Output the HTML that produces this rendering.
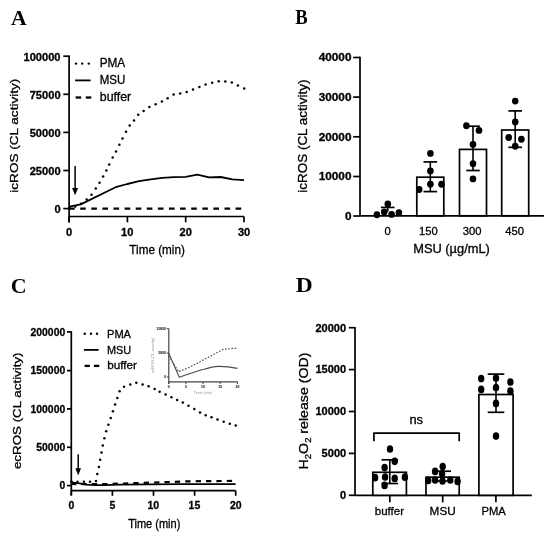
<!DOCTYPE html>
<html><head><meta charset="utf-8"><title>Figure</title>
<style>html,body{margin:0;padding:0;background:#fff;}svg{display:block;}</style></head>
<body><svg width="550" height="538" viewBox="0 0 550 538">
<rect width="550" height="538" fill="#fff"/>
<text x="10.99" y="24.50" font-family='"Liberation Serif","Times New Roman",serif' font-weight="bold" font-size="21.6" textLength="15.67" lengthAdjust="spacingAndGlyphs" fill="#000" stroke="#000" stroke-width="0" >A</text>
<line x1="69.10" y1="55.50" x2="69.10" y2="222.50" stroke="#000" stroke-width="1.7" />
<line x1="63.30" y1="56.20" x2="69.10" y2="56.20" stroke="#000" stroke-width="1.7" />
<text x="23.52" y="60.62" font-family='"Liberation Sans",Arial,sans-serif' font-weight="bold" font-size="11.1" textLength="37.04" lengthAdjust="spacingAndGlyphs" fill="#000" stroke="#000" stroke-width="0.3" >100000</text>
<line x1="63.30" y1="94.30" x2="69.10" y2="94.30" stroke="#000" stroke-width="1.7" />
<text x="29.69" y="98.72" font-family='"Liberation Sans",Arial,sans-serif' font-weight="bold" font-size="11.1" textLength="30.87" lengthAdjust="spacingAndGlyphs" fill="#000" stroke="#000" stroke-width="0.3" >75000</text>
<line x1="63.30" y1="132.40" x2="69.10" y2="132.40" stroke="#000" stroke-width="1.7" />
<text x="29.69" y="136.82" font-family='"Liberation Sans",Arial,sans-serif' font-weight="bold" font-size="11.1" textLength="30.87" lengthAdjust="spacingAndGlyphs" fill="#000" stroke="#000" stroke-width="0.3" >50000</text>
<line x1="63.30" y1="170.50" x2="69.10" y2="170.50" stroke="#000" stroke-width="1.7" />
<text x="29.69" y="174.92" font-family='"Liberation Sans",Arial,sans-serif' font-weight="bold" font-size="11.1" textLength="30.87" lengthAdjust="spacingAndGlyphs" fill="#000" stroke="#000" stroke-width="0.3" >25000</text>
<line x1="63.30" y1="208.60" x2="69.10" y2="208.60" stroke="#000" stroke-width="1.7" />
<text x="54.38" y="213.02" font-family='"Liberation Sans",Arial,sans-serif' font-weight="bold" font-size="11.1" textLength="6.17" lengthAdjust="spacingAndGlyphs" fill="#000" stroke="#000" stroke-width="0.3" >0</text>
<line x1="69.10" y1="216.50" x2="244.00" y2="216.50" stroke="#000" stroke-width="1.7" />
<line x1="69.10" y1="216.50" x2="69.10" y2="222.30" stroke="#000" stroke-width="1.7" />
<text x="66.02" y="236.35" font-family='"Liberation Sans",Arial,sans-serif' font-weight="bold" font-size="11.1" textLength="6.17" lengthAdjust="spacingAndGlyphs" fill="#000" stroke="#000" stroke-width="0.3" >0</text>
<line x1="127.40" y1="216.50" x2="127.40" y2="222.30" stroke="#000" stroke-width="1.7" />
<text x="121.10" y="236.35" font-family='"Liberation Sans",Arial,sans-serif' font-weight="bold" font-size="11.1" textLength="12.35" lengthAdjust="spacingAndGlyphs" fill="#000" stroke="#000" stroke-width="0.3" >10</text>
<line x1="185.70" y1="216.50" x2="185.70" y2="222.30" stroke="#000" stroke-width="1.7" />
<text x="179.56" y="236.35" font-family='"Liberation Sans",Arial,sans-serif' font-weight="bold" font-size="11.1" textLength="12.35" lengthAdjust="spacingAndGlyphs" fill="#000" stroke="#000" stroke-width="0.3" >20</text>
<line x1="244.00" y1="216.50" x2="244.00" y2="222.30" stroke="#000" stroke-width="1.7" />
<text x="237.93" y="236.35" font-family='"Liberation Sans",Arial,sans-serif' font-weight="bold" font-size="11.1" textLength="12.35" lengthAdjust="spacingAndGlyphs" fill="#000" stroke="#000" stroke-width="0.3" >30</text>
<text x="129.34" y="254.30" font-family='"Liberation Sans",Arial,sans-serif' font-weight="normal" font-size="12.6" textLength="55.48" lengthAdjust="spacingAndGlyphs" fill="#000" stroke="#000" stroke-width="0.3" >Time (min)</text>
<text transform="translate(18.10,0) rotate(-90)" x="-192.70" y="0" font-family='"Liberation Sans",Arial,sans-serif' font-weight="normal" font-size="11.2" textLength="113.94" lengthAdjust="spacingAndGlyphs" fill="#000" stroke="#000" stroke-width="0.3">icROS (CL activity)</text>
<circle cx="76.00" cy="63.60" r="1.2" fill="#000"/>
<circle cx="82.20" cy="63.60" r="1.2" fill="#000"/>
<circle cx="88.80" cy="63.60" r="1.2" fill="#000"/>
<line x1="75.10" y1="80.40" x2="90.60" y2="80.40" stroke="#000" stroke-width="1.8" />
<line x1="75.60" y1="97.50" x2="81.20" y2="97.50" stroke="#000" stroke-width="2.3" />
<line x1="85.80" y1="97.50" x2="91.30" y2="97.50" stroke="#000" stroke-width="2.3" />
<text x="99.63" y="66.80" font-family='"Liberation Sans",Arial,sans-serif' font-weight="normal" font-size="12.1" textLength="25.59" lengthAdjust="spacingAndGlyphs" fill="#000" stroke="#000" stroke-width="0.3" >PMA</text>
<text x="99.65" y="83.80" font-family='"Liberation Sans",Arial,sans-serif' font-weight="normal" font-size="12.1" textLength="25.64" lengthAdjust="spacingAndGlyphs" fill="#000" stroke="#000" stroke-width="0.3" >MSU</text>
<text x="99.81" y="100.90" font-family='"Liberation Sans",Arial,sans-serif' font-weight="normal" font-size="12.1" textLength="31.40" lengthAdjust="spacingAndGlyphs" fill="#000" stroke="#000" stroke-width="0.3" >buffer</text>
<line x1="75.10" y1="166.00" x2="75.10" y2="189.00" stroke="#000" stroke-width="1.5" />
<polygon points="72.10,188.00 78.10,188.00 75.10,195.20" fill="#000"/>
<line x1="69.10" y1="208.60" x2="244.00" y2="208.60" stroke="#000" stroke-width="2.2" stroke-dasharray="5.6 5.5"/>
<polyline points="69.20,206.60 80.70,204.40 115.60,187.20 127.30,184.00 139.00,181.20 150.70,179.40 162.30,177.90 174.00,177.20 185.70,176.80 197.40,174.60 209.00,177.30 220.70,177.00 232.30,179.40 244.00,180.20" fill="none" stroke="#000" stroke-width="1.8" stroke-linejoin="round" />
<circle cx="69.50" cy="207.80" r="1.25" fill="#000"/>
<circle cx="75.30" cy="206.50" r="1.25" fill="#000"/>
<circle cx="81.00" cy="203.80" r="1.25" fill="#000"/>
<circle cx="86.70" cy="199.60" r="1.25" fill="#000"/>
<circle cx="91.50" cy="194.70" r="1.25" fill="#000"/>
<circle cx="95.80" cy="188.60" r="1.25" fill="#000"/>
<circle cx="99.50" cy="182.80" r="1.25" fill="#000"/>
<circle cx="103.10" cy="176.40" r="1.25" fill="#000"/>
<circle cx="106.40" cy="170.60" r="1.25" fill="#000"/>
<circle cx="109.20" cy="164.50" r="1.25" fill="#000"/>
<circle cx="112.70" cy="157.50" r="1.25" fill="#000"/>
<circle cx="116.00" cy="151.40" r="1.25" fill="#000"/>
<circle cx="119.40" cy="144.80" r="1.25" fill="#000"/>
<circle cx="122.50" cy="138.50" r="1.25" fill="#000"/>
<circle cx="126.00" cy="131.80" r="1.25" fill="#000"/>
<circle cx="129.70" cy="125.60" r="1.25" fill="#000"/>
<circle cx="134.00" cy="120.50" r="1.25" fill="#000"/>
<circle cx="138.20" cy="114.70" r="1.25" fill="#000"/>
<circle cx="143.60" cy="110.90" r="1.25" fill="#000"/>
<circle cx="149.40" cy="107.10" r="1.25" fill="#000"/>
<circle cx="155.60" cy="104.30" r="1.25" fill="#000"/>
<circle cx="161.90" cy="101.60" r="1.25" fill="#000"/>
<circle cx="167.60" cy="98.30" r="1.25" fill="#000"/>
<circle cx="173.60" cy="94.60" r="1.25" fill="#000"/>
<circle cx="180.20" cy="93.40" r="1.25" fill="#000"/>
<circle cx="186.70" cy="92.00" r="1.25" fill="#000"/>
<circle cx="193.00" cy="89.40" r="1.25" fill="#000"/>
<circle cx="199.40" cy="87.10" r="1.25" fill="#000"/>
<circle cx="205.60" cy="84.60" r="1.25" fill="#000"/>
<circle cx="212.20" cy="82.70" r="1.25" fill="#000"/>
<circle cx="218.70" cy="81.30" r="1.25" fill="#000"/>
<circle cx="225.30" cy="81.60" r="1.25" fill="#000"/>
<circle cx="231.80" cy="82.50" r="1.25" fill="#000"/>
<circle cx="237.90" cy="85.40" r="1.25" fill="#000"/>
<circle cx="244.20" cy="88.60" r="1.25" fill="#000"/>
<text x="295.29" y="23.50" font-family='"Liberation Serif","Times New Roman",serif' font-weight="bold" font-size="21" textLength="12.43" lengthAdjust="spacingAndGlyphs" fill="#000" stroke="#000" stroke-width="0" >B</text>
<line x1="360.00" y1="56.80" x2="360.00" y2="216.00" stroke="#000" stroke-width="1.7" />
<line x1="353.20" y1="57.50" x2="360.00" y2="57.50" stroke="#000" stroke-width="1.7" />
<text x="318.76" y="61.32" font-family='"Liberation Sans",Arial,sans-serif' font-weight="bold" font-size="11.1" textLength="32.72" lengthAdjust="spacingAndGlyphs" fill="#000" stroke="#000" stroke-width="0.3" >40000</text>
<line x1="353.20" y1="97.10" x2="360.00" y2="97.10" stroke="#000" stroke-width="1.7" />
<text x="318.76" y="100.91" font-family='"Liberation Sans",Arial,sans-serif' font-weight="bold" font-size="11.1" textLength="32.72" lengthAdjust="spacingAndGlyphs" fill="#000" stroke="#000" stroke-width="0.3" >30000</text>
<line x1="353.20" y1="136.80" x2="360.00" y2="136.80" stroke="#000" stroke-width="1.7" />
<text x="318.76" y="140.62" font-family='"Liberation Sans",Arial,sans-serif' font-weight="bold" font-size="11.1" textLength="32.72" lengthAdjust="spacingAndGlyphs" fill="#000" stroke="#000" stroke-width="0.3" >20000</text>
<line x1="353.20" y1="176.50" x2="360.00" y2="176.50" stroke="#000" stroke-width="1.7" />
<text x="318.76" y="180.32" font-family='"Liberation Sans",Arial,sans-serif' font-weight="bold" font-size="11.1" textLength="32.72" lengthAdjust="spacingAndGlyphs" fill="#000" stroke="#000" stroke-width="0.3" >10000</text>
<line x1="353.20" y1="216.00" x2="360.00" y2="216.00" stroke="#000" stroke-width="1.7" />
<text x="344.94" y="219.82" font-family='"Liberation Sans",Arial,sans-serif' font-weight="bold" font-size="11.1" textLength="6.54" lengthAdjust="spacingAndGlyphs" fill="#000" stroke="#000" stroke-width="0.3" >0</text>
<line x1="360.00" y1="215.80" x2="544.00" y2="215.80" stroke="#000" stroke-width="1.7" />
<rect x="416.80" y="177.20" width="27.0" height="38.60" fill="#fff" stroke="#000" stroke-width="1.7"/>
<rect x="459.50" y="149.40" width="27.0" height="66.40" fill="#fff" stroke="#000" stroke-width="1.7"/>
<rect x="501.70" y="130.00" width="27.0" height="85.80" fill="#fff" stroke="#000" stroke-width="1.7"/>
<line x1="387.70" y1="207.40" x2="387.70" y2="211.80" stroke="#000" stroke-width="1.6" />
<line x1="380.90" y1="207.40" x2="394.50" y2="207.40" stroke="#000" stroke-width="1.7" />
<line x1="430.30" y1="161.90" x2="430.30" y2="191.60" stroke="#000" stroke-width="1.6" />
<line x1="423.50" y1="161.90" x2="437.10" y2="161.90" stroke="#000" stroke-width="1.7" />
<line x1="423.50" y1="191.60" x2="437.10" y2="191.60" stroke="#000" stroke-width="1.7" />
<line x1="473.00" y1="126.20" x2="473.00" y2="170.50" stroke="#000" stroke-width="1.6" />
<line x1="466.20" y1="126.20" x2="479.80" y2="126.20" stroke="#000" stroke-width="1.7" />
<line x1="466.20" y1="170.50" x2="479.80" y2="170.50" stroke="#000" stroke-width="1.7" />
<line x1="515.20" y1="110.90" x2="515.20" y2="147.30" stroke="#000" stroke-width="1.6" />
<line x1="508.40" y1="110.90" x2="522.00" y2="110.90" stroke="#000" stroke-width="1.7" />
<line x1="508.40" y1="147.30" x2="522.00" y2="147.30" stroke="#000" stroke-width="1.7" />
<ellipse cx="376.90" cy="214.70" rx="3.3" ry="3.45" fill="#000"/>
<ellipse cx="384.20" cy="212.00" rx="3.3" ry="3.45" fill="#000"/>
<ellipse cx="387.80" cy="204.00" rx="3.3" ry="3.45" fill="#000"/>
<ellipse cx="391.60" cy="214.40" rx="3.3" ry="3.45" fill="#000"/>
<ellipse cx="398.90" cy="212.70" rx="3.3" ry="3.45" fill="#000"/>
<ellipse cx="430.40" cy="153.40" rx="3.3" ry="3.45" fill="#000"/>
<ellipse cx="430.40" cy="170.90" rx="3.3" ry="3.45" fill="#000"/>
<ellipse cx="430.40" cy="184.20" rx="3.3" ry="3.45" fill="#000"/>
<ellipse cx="441.50" cy="184.30" rx="3.3" ry="3.45" fill="#000"/>
<ellipse cx="419.20" cy="189.50" rx="3.3" ry="3.45" fill="#000"/>
<ellipse cx="466.40" cy="125.80" rx="3.3" ry="3.45" fill="#000"/>
<ellipse cx="479.00" cy="130.40" rx="3.3" ry="3.45" fill="#000"/>
<ellipse cx="473.00" cy="144.40" rx="3.3" ry="3.45" fill="#000"/>
<ellipse cx="473.00" cy="163.70" rx="3.3" ry="3.45" fill="#000"/>
<ellipse cx="473.00" cy="178.90" rx="3.3" ry="3.45" fill="#000"/>
<ellipse cx="515.20" cy="101.10" rx="3.3" ry="3.45" fill="#000"/>
<ellipse cx="515.20" cy="121.90" rx="3.3" ry="3.45" fill="#000"/>
<ellipse cx="508.70" cy="137.50" rx="3.3" ry="3.45" fill="#000"/>
<ellipse cx="521.40" cy="139.20" rx="3.3" ry="3.45" fill="#000"/>
<ellipse cx="515.20" cy="146.20" rx="3.3" ry="3.45" fill="#000"/>
<text x="384.59" y="234.92" font-family='"Liberation Sans",Arial,sans-serif' font-weight="normal" font-size="11.2" textLength="6.23" lengthAdjust="spacingAndGlyphs" fill="#000" stroke="#000" stroke-width="0.3" >0</text>
<text x="418.95" y="234.92" font-family='"Liberation Sans",Arial,sans-serif' font-weight="normal" font-size="11.2" textLength="18.69" lengthAdjust="spacingAndGlyphs" fill="#000" stroke="#000" stroke-width="0.3" >150</text>
<text x="462.76" y="234.92" font-family='"Liberation Sans",Arial,sans-serif' font-weight="normal" font-size="11.2" textLength="18.69" lengthAdjust="spacingAndGlyphs" fill="#000" stroke="#000" stroke-width="0.3" >300</text>
<text x="505.25" y="234.92" font-family='"Liberation Sans",Arial,sans-serif' font-weight="normal" font-size="11.2" textLength="18.69" lengthAdjust="spacingAndGlyphs" fill="#000" stroke="#000" stroke-width="0.3" >450</text>
<text x="413.25" y="253.40" font-family='"Liberation Sans",Arial,sans-serif' font-weight="normal" font-size="12.3" textLength="76.55" lengthAdjust="spacingAndGlyphs" fill="#000" stroke="#000" stroke-width="0.3" >MSU (µg/mL)</text>
<text transform="translate(307.10,0) rotate(-90)" x="-192.70" y="0" font-family='"Liberation Sans",Arial,sans-serif' font-weight="normal" font-size="12.8" textLength="113.13" lengthAdjust="spacingAndGlyphs" fill="#000" stroke="#000" stroke-width="0.3">icROS (CL activity)</text>
<text x="10.83" y="292.60" font-family='"Liberation Serif","Times New Roman",serif' font-weight="bold" font-size="21" textLength="15.84" lengthAdjust="spacingAndGlyphs" fill="#000" stroke="#000" stroke-width="0" >C</text>
<line x1="71.30" y1="331.20" x2="71.30" y2="495.00" stroke="#000" stroke-width="1.7" />
<line x1="67.00" y1="331.90" x2="71.30" y2="331.90" stroke="#000" stroke-width="1.7" />
<text x="30.54" y="335.79" font-family='"Liberation Sans",Arial,sans-serif' font-weight="bold" font-size="11.3" textLength="34.69" lengthAdjust="spacingAndGlyphs" fill="#000" stroke="#000" stroke-width="0.3" >200000</text>
<line x1="67.00" y1="370.60" x2="71.30" y2="370.60" stroke="#000" stroke-width="1.7" />
<text x="30.54" y="374.49" font-family='"Liberation Sans",Arial,sans-serif' font-weight="bold" font-size="11.3" textLength="34.69" lengthAdjust="spacingAndGlyphs" fill="#000" stroke="#000" stroke-width="0.3" >150000</text>
<line x1="67.00" y1="408.90" x2="71.30" y2="408.90" stroke="#000" stroke-width="1.7" />
<text x="30.54" y="412.79" font-family='"Liberation Sans",Arial,sans-serif' font-weight="bold" font-size="11.3" textLength="34.69" lengthAdjust="spacingAndGlyphs" fill="#000" stroke="#000" stroke-width="0.3" >100000</text>
<line x1="67.00" y1="447.30" x2="71.30" y2="447.30" stroke="#000" stroke-width="1.7" />
<text x="36.32" y="451.19" font-family='"Liberation Sans",Arial,sans-serif' font-weight="bold" font-size="11.3" textLength="28.91" lengthAdjust="spacingAndGlyphs" fill="#000" stroke="#000" stroke-width="0.3" >50000</text>
<line x1="67.00" y1="485.60" x2="71.30" y2="485.60" stroke="#000" stroke-width="1.7" />
<text x="59.44" y="489.49" font-family='"Liberation Sans",Arial,sans-serif' font-weight="bold" font-size="11.3" textLength="5.78" lengthAdjust="spacingAndGlyphs" fill="#000" stroke="#000" stroke-width="0.3" >0</text>
<line x1="71.30" y1="490.70" x2="235.70" y2="490.70" stroke="#000" stroke-width="1.7" />
<line x1="71.30" y1="490.70" x2="71.30" y2="495.80" stroke="#000" stroke-width="1.7" />
<text x="68.39" y="508.89" font-family='"Liberation Sans",Arial,sans-serif' font-weight="bold" font-size="11.3" textLength="5.84" lengthAdjust="spacingAndGlyphs" fill="#000" stroke="#000" stroke-width="0.3" >0</text>
<line x1="112.40" y1="490.70" x2="112.40" y2="495.80" stroke="#000" stroke-width="1.7" />
<text x="109.46" y="508.77" font-family='"Liberation Sans",Arial,sans-serif' font-weight="bold" font-size="11.3" textLength="5.84" lengthAdjust="spacingAndGlyphs" fill="#000" stroke="#000" stroke-width="0.3" >5</text>
<line x1="153.50" y1="490.70" x2="153.50" y2="495.80" stroke="#000" stroke-width="1.7" />
<text x="147.54" y="508.89" font-family='"Liberation Sans",Arial,sans-serif' font-weight="bold" font-size="11.3" textLength="11.69" lengthAdjust="spacingAndGlyphs" fill="#000" stroke="#000" stroke-width="0.3" >10</text>
<line x1="194.60" y1="490.70" x2="194.60" y2="495.80" stroke="#000" stroke-width="1.7" />
<text x="188.57" y="508.77" font-family='"Liberation Sans",Arial,sans-serif' font-weight="bold" font-size="11.3" textLength="11.69" lengthAdjust="spacingAndGlyphs" fill="#000" stroke="#000" stroke-width="0.3" >15</text>
<line x1="235.70" y1="490.70" x2="235.70" y2="495.80" stroke="#000" stroke-width="1.7" />
<text x="229.89" y="508.89" font-family='"Liberation Sans",Arial,sans-serif' font-weight="bold" font-size="11.3" textLength="11.69" lengthAdjust="spacingAndGlyphs" fill="#000" stroke="#000" stroke-width="0.3" >20</text>
<text x="128.15" y="528.40" font-family='"Liberation Sans",Arial,sans-serif' font-weight="normal" font-size="12.3" textLength="52.22" lengthAdjust="spacingAndGlyphs" fill="#000" stroke="#000" stroke-width="0.3" >Time (min)</text>
<text transform="translate(20.90,0) rotate(-90)" x="-469.06" y="0" font-family='"Liberation Sans",Arial,sans-serif' font-weight="normal" font-size="11.8" textLength="116.59" lengthAdjust="spacingAndGlyphs" fill="#000" stroke="#000" stroke-width="0.3">ecROS (CL activity)</text>
<circle cx="84.80" cy="333.80" r="1.2" fill="#000"/>
<circle cx="91.00" cy="333.80" r="1.2" fill="#000"/>
<circle cx="97.00" cy="333.80" r="1.2" fill="#000"/>
<line x1="83.90" y1="349.90" x2="98.60" y2="349.90" stroke="#000" stroke-width="1.8" />
<line x1="84.60" y1="365.90" x2="89.80" y2="365.90" stroke="#000" stroke-width="2.3" />
<line x1="93.90" y1="365.90" x2="99.30" y2="365.90" stroke="#000" stroke-width="2.3" />
<text x="106.99" y="337.60" font-family='"Liberation Sans",Arial,sans-serif' font-weight="normal" font-size="11.6" textLength="24.03" lengthAdjust="spacingAndGlyphs" fill="#000" stroke="#000" stroke-width="0.3" >PMA</text>
<text x="107.01" y="353.50" font-family='"Liberation Sans",Arial,sans-serif' font-weight="normal" font-size="11.6" textLength="24.24" lengthAdjust="spacingAndGlyphs" fill="#000" stroke="#000" stroke-width="0.3" >MSU</text>
<text x="107.15" y="369.30" font-family='"Liberation Sans",Arial,sans-serif' font-weight="normal" font-size="11.7" textLength="29.74" lengthAdjust="spacingAndGlyphs" fill="#000" stroke="#000" stroke-width="0.3" >buffer</text>
<line x1="78.20" y1="454.30" x2="78.20" y2="469.20" stroke="#000" stroke-width="1.5" />
<polygon points="75.40,468.20 81.00,468.20 78.20,475.60" fill="#000"/>
<polyline points="71.30,482.40 79.50,483.30 87.00,484.60 96.00,485.10 104.20,485.10 120.00,484.60 180.00,484.10 235.60,484.20" fill="none" stroke="#000" stroke-width="1.7" stroke-linejoin="round" />
<polyline points="71.00,484.00 100.00,484.20 125.00,483.50 150.00,482.60 170.00,482.00 190.00,481.30 235.70,480.90" fill="none" stroke="#000" stroke-width="2.2" stroke-linejoin="round" stroke-dasharray="5.3 5.09"/>
<circle cx="71.40" cy="481.60" r="1.25" fill="#000"/>
<circle cx="77.50" cy="481.70" r="1.25" fill="#000"/>
<circle cx="83.90" cy="481.70" r="1.25" fill="#000"/>
<circle cx="90.00" cy="481.70" r="1.25" fill="#000"/>
<circle cx="96.00" cy="480.90" r="1.25" fill="#000"/>
<circle cx="97.30" cy="473.90" r="1.25" fill="#000"/>
<circle cx="98.90" cy="466.90" r="1.25" fill="#000"/>
<circle cx="100.20" cy="459.70" r="1.25" fill="#000"/>
<circle cx="101.50" cy="452.50" r="1.25" fill="#000"/>
<circle cx="102.80" cy="445.40" r="1.25" fill="#000"/>
<circle cx="104.40" cy="438.30" r="1.25" fill="#000"/>
<circle cx="106.20" cy="431.30" r="1.25" fill="#000"/>
<circle cx="108.40" cy="424.70" r="1.25" fill="#000"/>
<circle cx="110.70" cy="418.00" r="1.25" fill="#000"/>
<circle cx="112.90" cy="411.30" r="1.25" fill="#000"/>
<circle cx="115.10" cy="404.60" r="1.25" fill="#000"/>
<circle cx="117.30" cy="397.90" r="1.25" fill="#000"/>
<circle cx="119.60" cy="391.20" r="1.25" fill="#000"/>
<circle cx="124.00" cy="386.70" r="1.25" fill="#000"/>
<circle cx="130.30" cy="384.50" r="1.25" fill="#000"/>
<circle cx="136.30" cy="382.70" r="1.25" fill="#000"/>
<circle cx="142.60" cy="384.50" r="1.25" fill="#000"/>
<circle cx="148.60" cy="386.30" r="1.25" fill="#000"/>
<circle cx="154.60" cy="389.00" r="1.25" fill="#000"/>
<circle cx="159.60" cy="391.80" r="1.25" fill="#000"/>
<circle cx="165.60" cy="394.40" r="1.25" fill="#000"/>
<circle cx="171.40" cy="397.20" r="1.25" fill="#000"/>
<circle cx="177.10" cy="400.00" r="1.25" fill="#000"/>
<circle cx="182.80" cy="402.60" r="1.25" fill="#000"/>
<circle cx="188.50" cy="405.70" r="1.25" fill="#000"/>
<circle cx="194.30" cy="409.10" r="1.25" fill="#000"/>
<circle cx="200.00" cy="412.40" r="1.25" fill="#000"/>
<circle cx="205.70" cy="415.20" r="1.25" fill="#000"/>
<circle cx="211.50" cy="417.30" r="1.25" fill="#000"/>
<circle cx="217.50" cy="419.60" r="1.25" fill="#000"/>
<circle cx="223.70" cy="421.70" r="1.25" fill="#000"/>
<circle cx="229.80" cy="423.70" r="1.25" fill="#000"/>
<circle cx="235.70" cy="425.50" r="1.25" fill="#000"/>
<g stroke="#444" fill="none">
<line x1="168.8" y1="328.6" x2="168.8" y2="384" stroke-width="1.2"/>
<line x1="168.8" y1="381.9" x2="237.8" y2="381.9" stroke-width="1.3"/>
<line x1="166.7" y1="328.6" x2="168.7" y2="328.6" stroke-width="1"/>
<line x1="166.7" y1="353.0" x2="168.7" y2="353.0" stroke-width="1"/>
<line x1="166.7" y1="376.9" x2="168.7" y2="376.9" stroke-width="1"/>
<line x1="168.7" y1="382" x2="168.7" y2="384" stroke-width="1"/>
<line x1="185.9" y1="382" x2="185.9" y2="384" stroke-width="1"/>
<line x1="203.0" y1="382" x2="203.0" y2="384" stroke-width="1"/>
<line x1="220.2" y1="382" x2="220.2" y2="384" stroke-width="1"/>
<line x1="237.4" y1="382" x2="237.4" y2="384" stroke-width="1"/>
<path d="M168.7,353.1 L179.3,377.3 C186,375 195,371.5 204,369.3 C209,367.8 213,366.6 218,366.4 C224,366.3 230,366.8 237.4,368.4" stroke-width="1.1" stroke="#4a4a4a"/>
<polyline points="168.7,356.0 178.6,371.8 190,367.0 200,361.8 223.0,349.4 237.4,348.0" stroke-width="1.2" stroke="#555" stroke-dasharray="1.7 1.5"/>
</g>
<g font-family='"Liberation Sans",Arial,sans-serif' fill="#444" font-weight="bold" font-size="3.4" style="stroke:#444;stroke-width:0.15px">
<text x="166" y="330" text-anchor="end">10000</text><text x="166" y="354.3" text-anchor="end">5000</text><text x="166" y="378.2" text-anchor="end">0</text>
<text x="168.7" y="388" text-anchor="middle">0</text>
<text x="185.9" y="388" text-anchor="middle">5</text>
<text x="203.0" y="388" text-anchor="middle">10</text>
<text x="220.2" y="388" text-anchor="middle">15</text>
<text x="237.4" y="388" text-anchor="middle">20</text>
</g>
<g font-family='"Liberation Sans",Arial,sans-serif' fill="#999" font-size="4" style="stroke:none">
<text x="202.9" y="393.8" text-anchor="middle">Time (min)</text>
<text transform="translate(154.2,355.4) rotate(-90)" text-anchor="middle">ecROS (CL activity)</text>
</g>
<text x="295.69" y="292.00" font-family='"Liberation Serif","Times New Roman",serif' font-weight="bold" font-size="21" textLength="16.96" lengthAdjust="spacingAndGlyphs" fill="#000" stroke="#000" stroke-width="0" >D</text>
<line x1="355.00" y1="326.90" x2="355.00" y2="495.30" stroke="#000" stroke-width="1.7" />
<line x1="348.80" y1="327.70" x2="355.00" y2="327.70" stroke="#000" stroke-width="1.7" />
<text x="315.48" y="331.56" font-family='"Liberation Sans",Arial,sans-serif' font-weight="bold" font-size="11.2" textLength="30.68" lengthAdjust="spacingAndGlyphs" fill="#000" stroke="#000" stroke-width="0.3" >20000</text>
<line x1="348.80" y1="369.60" x2="355.00" y2="369.60" stroke="#000" stroke-width="1.7" />
<text x="315.48" y="373.46" font-family='"Liberation Sans",Arial,sans-serif' font-weight="bold" font-size="11.2" textLength="30.68" lengthAdjust="spacingAndGlyphs" fill="#000" stroke="#000" stroke-width="0.3" >15000</text>
<line x1="348.80" y1="411.50" x2="355.00" y2="411.50" stroke="#000" stroke-width="1.7" />
<text x="315.48" y="415.36" font-family='"Liberation Sans",Arial,sans-serif' font-weight="bold" font-size="11.2" textLength="30.68" lengthAdjust="spacingAndGlyphs" fill="#000" stroke="#000" stroke-width="0.3" >10000</text>
<line x1="348.80" y1="453.40" x2="355.00" y2="453.40" stroke="#000" stroke-width="1.7" />
<text x="321.61" y="457.26" font-family='"Liberation Sans",Arial,sans-serif' font-weight="bold" font-size="11.2" textLength="24.54" lengthAdjust="spacingAndGlyphs" fill="#000" stroke="#000" stroke-width="0.3" >5000</text>
<line x1="348.80" y1="495.30" x2="355.00" y2="495.30" stroke="#000" stroke-width="1.7" />
<text x="340.02" y="499.16" font-family='"Liberation Sans",Arial,sans-serif' font-weight="bold" font-size="11.2" textLength="6.14" lengthAdjust="spacingAndGlyphs" fill="#000" stroke="#000" stroke-width="0.3" >0</text>
<line x1="355.00" y1="495.30" x2="531.80" y2="495.30" stroke="#000" stroke-width="1.7" />
<rect x="372.80" y="472.30" width="33.60" height="23.00" fill="#fff" stroke="#000" stroke-width="1.7"/>
<rect x="426.00" y="477.20" width="33.20" height="18.10" fill="#fff" stroke="#000" stroke-width="1.7"/>
<rect x="478.90" y="394.50" width="34.20" height="100.80" fill="#fff" stroke="#000" stroke-width="1.7"/>
<line x1="389.80" y1="495.30" x2="389.80" y2="502.30" stroke="#000" stroke-width="1.7" />
<line x1="442.70" y1="495.30" x2="442.70" y2="502.30" stroke="#000" stroke-width="1.7" />
<line x1="495.90" y1="495.30" x2="495.90" y2="502.30" stroke="#000" stroke-width="1.7" />
<line x1="389.80" y1="459.80" x2="389.80" y2="483.50" stroke="#000" stroke-width="1.6" />
<line x1="381.50" y1="459.80" x2="398.10" y2="459.80" stroke="#000" stroke-width="1.7" />
<line x1="381.50" y1="483.50" x2="398.10" y2="483.50" stroke="#000" stroke-width="1.7" />
<line x1="442.70" y1="471.20" x2="442.70" y2="481.00" stroke="#000" stroke-width="1.6" />
<line x1="434.40" y1="471.20" x2="451.00" y2="471.20" stroke="#000" stroke-width="1.7" />
<line x1="434.40" y1="481.00" x2="451.00" y2="481.00" stroke="#000" stroke-width="1.7" />
<line x1="496.00" y1="374.10" x2="496.00" y2="412.30" stroke="#000" stroke-width="1.6" />
<line x1="487.70" y1="374.10" x2="504.30" y2="374.10" stroke="#000" stroke-width="1.7" />
<line x1="487.70" y1="412.30" x2="504.30" y2="412.30" stroke="#000" stroke-width="1.7" />
<ellipse cx="390.00" cy="449.00" rx="3.2" ry="3.85" fill="#000"/>
<ellipse cx="394.70" cy="461.30" rx="3.2" ry="3.85" fill="#000"/>
<ellipse cx="384.60" cy="467.60" rx="3.2" ry="3.85" fill="#000"/>
<ellipse cx="375.10" cy="477.70" rx="3.2" ry="3.85" fill="#000"/>
<ellipse cx="385.10" cy="477.00" rx="3.2" ry="3.85" fill="#000"/>
<ellipse cx="394.70" cy="478.40" rx="3.2" ry="3.85" fill="#000"/>
<ellipse cx="404.90" cy="477.20" rx="3.2" ry="3.85" fill="#000"/>
<ellipse cx="384.60" cy="485.40" rx="3.2" ry="3.85" fill="#000"/>
<ellipse cx="442.70" cy="466.50" rx="3.2" ry="3.85" fill="#000"/>
<ellipse cx="435.10" cy="471.40" rx="3.2" ry="3.85" fill="#000"/>
<ellipse cx="442.10" cy="473.80" rx="3.2" ry="3.85" fill="#000"/>
<ellipse cx="428.20" cy="480.40" rx="3.2" ry="3.85" fill="#000"/>
<ellipse cx="435.10" cy="480.00" rx="3.2" ry="3.85" fill="#000"/>
<ellipse cx="442.50" cy="481.00" rx="3.2" ry="3.85" fill="#000"/>
<ellipse cx="450.30" cy="480.00" rx="3.2" ry="3.85" fill="#000"/>
<ellipse cx="457.60" cy="481.40" rx="3.2" ry="3.85" fill="#000"/>
<ellipse cx="481.20" cy="378.60" rx="3.2" ry="3.85" fill="#000"/>
<ellipse cx="496.00" cy="378.10" rx="3.2" ry="3.85" fill="#000"/>
<ellipse cx="510.40" cy="382.00" rx="3.2" ry="3.85" fill="#000"/>
<ellipse cx="481.20" cy="389.40" rx="3.2" ry="3.85" fill="#000"/>
<ellipse cx="496.00" cy="387.50" rx="3.2" ry="3.85" fill="#000"/>
<ellipse cx="510.40" cy="391.20" rx="3.2" ry="3.85" fill="#000"/>
<ellipse cx="496.00" cy="403.40" rx="3.2" ry="3.85" fill="#000"/>
<ellipse cx="496.00" cy="436.10" rx="3.2" ry="3.85" fill="#000"/>
<polyline points="373.90,441.30 373.90,433.10 459.20,433.10 459.20,441.30" fill="none" stroke="#000" stroke-width="1.7" stroke-linejoin="round" stroke-linejoin="miter"/>
<text x="409.44" y="423.80" font-family='"Liberation Sans",Arial,sans-serif' font-weight="normal" font-size="12.3" textLength="13.62" lengthAdjust="spacingAndGlyphs" fill="#000" stroke="#000" stroke-width="0.3" >ns</text>
<text x="374.76" y="514.90" font-family='"Liberation Sans",Arial,sans-serif' font-weight="normal" font-size="11.8" textLength="29.33" lengthAdjust="spacingAndGlyphs" fill="#000" stroke="#000" stroke-width="0.3" >buffer</text>
<text x="429.64" y="515.00" font-family='"Liberation Sans",Arial,sans-serif' font-weight="normal" font-size="11.6" textLength="26.07" lengthAdjust="spacingAndGlyphs" fill="#000" stroke="#000" stroke-width="0.3" >MSU</text>
<text x="481.48" y="515.00" font-family='"Liberation Sans",Arial,sans-serif' font-weight="normal" font-size="11.6" textLength="24.34" lengthAdjust="spacingAndGlyphs" fill="#000" stroke="#000" stroke-width="0.3" >PMA</text>
<text transform="translate(308.2,469.4) rotate(-90)" font-family='"Liberation Sans",Arial,sans-serif' font-size="12.3" stroke="#000" stroke-width="0.3" textLength="116.9" lengthAdjust="spacingAndGlyphs">H<tspan font-size="8.2" dy="2.6">2</tspan><tspan dy="-2.6">O</tspan><tspan font-size="8.2" dy="2.6">2</tspan><tspan dy="-2.6"> release (OD)</tspan></text>
</svg></body></html>
